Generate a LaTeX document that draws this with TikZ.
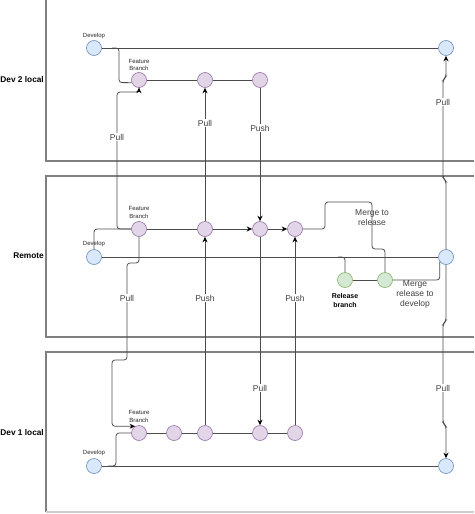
\documentclass[tikz,border=0pt]{standalone}
\usepackage{fontspec}
\setmainfont{Liberation Sans}
\usetikzlibrary{arrows.meta}
\definecolor{devfill}{HTML}{DAE8FC}
\definecolor{devstroke}{HTML}{6C8EBF}
\definecolor{featfill}{HTML}{E1D5E7}
\definecolor{featstroke}{HTML}{9673A6}
\definecolor{relfill}{HTML}{D5E8D4}
\definecolor{relstroke}{HTML}{82B366}
\begin{document}
\begin{tikzpicture}[x=1pt,y=-1pt,
 lane/.style={draw=black!50, line width=1.1pt},
 conn/.style={draw=black!70, line width=0.8pt, rounded corners=3pt},
 arr/.style={conn, -{Stealth[length=5.5pt,width=5pt,color=black]}},
 commit/.style={circle, minimum size=15pt, inner sep=0pt, line width=0.6pt},
 dev/.style={commit, draw=devstroke, fill=devfill},
 feat/.style={commit, draw=featstroke, fill=featfill},
 rel/.style={commit, draw=relstroke, fill=relfill},
 lanetitle/.style={font=\bfseries\fontsize{8.3}{10}\selectfont, anchor=east, inner sep=0pt},
 small/.style={font=\fontsize{6}{7.5}\selectfont, align=center, text=black!85, inner sep=0pt},
 lbl/.style={font=\fontsize{8.5}{10}\selectfont, fill=white, inner sep=1.2pt, text=black!75},
 mlbl/.style={font=\fontsize{8.5}{10}\selectfont, align=center, inner sep=0pt, text=black!75},
]
\useasboundingbox (0,0) rectangle (474,514);
% lanes
\draw[lane] (46,0) -- (46,161) -- (474,161);
\draw[lane] (474,176) -- (46,176) -- (46,337) -- (474,337);
\draw[lane] (474,352) -- (46,352) -- (46,512);
\draw[draw=black!20, line width=1.1pt] (46,512) -- (474,512);
\node[lanetitle] (t2) at (44,80) {Dev 2 local};
\node[lanetitle] (tr) at (44,256) {Remote};
\node[lanetitle] (t1) at (44,433) {Dev 1 local};

% Dev 2 local
\node[dev] (d2dev) at (94,48) {};
\node[dev] (d2devend) at (446,48) {};
\node[feat] (d2f1) at (139,80) {};
\node[feat] (d2f2) at (205,80) {};
\node[feat] (d2f3) at (260,80) {};
\node[small] (d2devl) at (94,36) {Develop};
\node[small] (d2fl) at (139,65) {Feature\\Branch};

% Remote
\node[feat] (rf1) at (139,229) {};
\node[feat] (rf2) at (205,229) {};
\node[feat] (rf3) at (260,229) {};
\node[feat] (rf4) at (295,229) {};
\node[dev] (rdev) at (94,257) {};
\node[dev] (rdevend) at (446,257) {};
\node[rel] (rr1) at (345,280) {};
\node[rel] (rr2) at (385,280) {};
\node[small] (rdevl) at (94,244) {Develop};
\node[small] (rfl) at (139,212.5) {Feature\\Branch};
\node[small, font=\bfseries\fontsize{7}{9}\selectfont, text=black] (rrl) at (345,300) {Release\\branch};

% Dev 1 local
\node[dev] (d1dev) at (94,466) {};
\node[dev] (d1devend) at (446,466) {};
\node[feat] (d1f1) at (139,433) {};
\node[feat] (d1f2) at (174,433) {};
\node[feat] (d1f3) at (205,433) {};
\node[feat] (d1f4) at (260,433) {};
\node[feat] (d1f5) at (295,433) {};
\node[small] (d1devl) at (94,453) {Develop};
\node[small] (d1fl) at (139,416.5) {Feature\\Branch};

\coordinate (d2br) at (112,48);
\coordinate (relbr) at (338,257);
\coordinate (d1br) at (108,466);

% Dev 2 connectors
\draw[conn] (d2dev) -- (d2devend);
\draw[conn] (d2br) -| (119,82.6) -- (d2f1.200);
\draw[conn] (d2f1) -- (d2f2) -- (d2f3);

% Remote connectors
\draw[conn] (rdev) -- (rdevend);
\draw[conn] (rdev.north) |- (rf1.west);
\draw[conn] (rf1) -- (rf2);
\draw[arr] (rf2) -- (rf3);
\draw[arr] (rf3) -- (rf4);
\draw[conn] (rf4.east) -- (325,229) -- (325,202) -- (372,202) -- (372,249) -- (385,249) -- (rr2.north);
\draw[conn] (relbr) -| (rr1.north);
\draw[conn] (rr1) -- (rr2);
\draw[conn] (rr2.east) -| (rdevend.217);
\node[mlbl] (m1) at (372,218) {Merge to\\release};
\node[mlbl] (m2) at (415,294) {Merge\\release to\\develop};

% Dev 1 connectors
\draw[conn] (d1dev) -- (d1devend);
\draw[conn] (d1br) -| (116,433) -- (d1f1.west);
\draw[conn] (d1f1) -- (d1f2) -- (d1f3) -- (d1f4) -- (d1f5);

% between lanes
\draw[arr] (rf1.west) -| (117,92) -| (d2f1.south);
\node[lbl] (p1) at (117,137) {Pull};
\draw[arr] (rf2.north) -- (d2f2.south);
\node[lbl] (p2) at (205,123) {Pull};
\draw[arr] (d2f3.south) -- (rf3.north);
\node[lbl] (p3) at (260,128) {Push};
\draw[arr] (rdevend.north) -- (446,181) -- (443,178) -- (443,80) -- (446,77) -- (d2devend.south);
\node[lbl] (p4) at (443,102) {Pull};
\draw[arr] (rf1.south) -- (139,263) -- (127,263) -- (127,360) -- (112,360) |- (d1f1.120);
\node[lbl] (p5) at (127,298) {Pull};
\draw[arr] (d1f3.north) -- (rf2.south);
\node[lbl] (p6) at (205,298) {Push};
\draw[arr] (rf3.south) -- (d1f4.north);
\node[lbl] (p7) at (260,388) {Pull};
\draw[arr] (d1f5.north) -- (rf4.south);
\node[lbl] (p8) at (295,298) {Push};
\draw[arr] (rdevend.south) -- (446,321) -- (443,324) -- (443,423) -- (446,426) -- (d1devend.north);
\node[lbl] (p9) at (443,388) {Pull};
\end{tikzpicture}
\end{document}
